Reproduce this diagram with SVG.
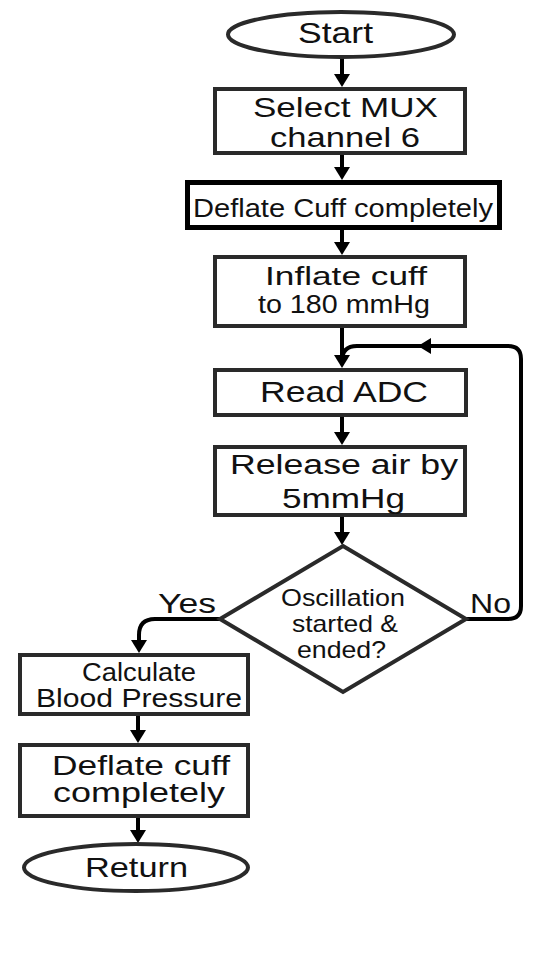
<svg xmlns="http://www.w3.org/2000/svg" width="538" height="975" viewBox="0 0 538 975">
<style>
.box{fill:#fff;stroke:#2a2a2a;stroke-width:4}
.thick{fill:#fff;stroke:#000;stroke-width:5}
.con{fill:none;stroke:#000;stroke-width:4}
text{font-family:"Liberation Sans",Arial,sans-serif;fill:#111}
</style>
<defs>
<marker id="ah" viewBox="0 0 13 16" refX="1" refY="8" markerWidth="13" markerHeight="16" markerUnits="userSpaceOnUse" orient="auto">
<path d="M0,0 L13,8 L0,16 z" fill="#000"/>
</marker>
</defs>
<rect width="538" height="975" fill="#fff"/>
<g id="connectors">
<path class="con" d="M342,57 V75" marker-end="url(#ah)"/>
<path class="con" d="M342,155 V168" marker-end="url(#ah)"/>
<path class="con" d="M342,230 V243" marker-end="url(#ah)"/>
<path class="con" d="M342,328 V356" marker-end="url(#ah)"/>
<path class="con" d="M342,417 V433" marker-end="url(#ah)"/>
<path class="con" d="M342,517 V533" marker-end="url(#ah)"/>
<path class="con" d="M466,619 H508 Q521,619 521,606 V359 Q521,346 508,346 H430" marker-end="url(#ah)"/>
<path class="con" d="M431,346 H357 Q342,346 342,361"/>
<path class="con" d="M220,619 H155 Q139,619 139,635 V641" marker-end="url(#ah)"/>
<path class="con" d="M138,716 V731" marker-end="url(#ah)"/>
<path class="con" d="M138,818 V831" marker-end="url(#ah)"/>
</g>
<g id="start">
<ellipse class="box" cx="341" cy="34.5" rx="113" ry="22.5"/>
<text x="298" y="43" font-size="29" textLength="75" lengthAdjust="spacingAndGlyphs">Start</text>
</g>
<g id="select-mux">
<rect class="box" x="215" y="89" width="250" height="64"/>
<text x="253" y="117" font-size="28" textLength="185" lengthAdjust="spacingAndGlyphs">Select MUX</text>
<text x="270" y="147" font-size="28" textLength="150" lengthAdjust="spacingAndGlyphs">channel 6</text>
</g>
<g id="deflate-1">
<rect class="thick" x="187.5" y="182.5" width="312" height="45"/>
<text x="193" y="217" font-size="26" textLength="300" lengthAdjust="spacingAndGlyphs">Deflate Cuff completely</text>
</g>
<g id="inflate">
<rect class="box" x="215" y="257" width="250" height="69"/>
<text x="265" y="285" font-size="26" textLength="162" lengthAdjust="spacingAndGlyphs">Inflate cuff</text>
<text x="258" y="313" font-size="25" textLength="172" lengthAdjust="spacingAndGlyphs">to 180 mmHg</text>
</g>
<g id="read-adc">
<rect class="box" x="215" y="370" width="251" height="45"/>
<text x="260" y="402" font-size="30" textLength="168" lengthAdjust="spacingAndGlyphs">Read ADC</text>
</g>
<g id="release">
<rect class="box" x="215" y="447" width="250" height="68"/>
<text x="230" y="474" font-size="27" textLength="228" lengthAdjust="spacingAndGlyphs">Release air by</text>
<text x="282" y="508" font-size="27" textLength="123" lengthAdjust="spacingAndGlyphs">5mmHg</text>
</g>
<g id="decision">
<polygon class="box" points="343,546 466,619 343,692 220,619"/>
<text x="281" y="606" font-size="24" textLength="124" lengthAdjust="spacingAndGlyphs">Oscillation</text>
<text x="292" y="632" font-size="24" textLength="106" lengthAdjust="spacingAndGlyphs">started &amp;</text>
<text x="297" y="658" font-size="24" textLength="89" lengthAdjust="spacingAndGlyphs">ended?</text>
<text x="158" y="613" font-size="27" textLength="58" lengthAdjust="spacingAndGlyphs">Yes</text>
<text x="470" y="613" font-size="27" textLength="41" lengthAdjust="spacingAndGlyphs">No</text>
</g>
<g id="calculate">
<rect class="box" x="20" y="655" width="228" height="59"/>
<text x="82" y="681" font-size="25" textLength="114" lengthAdjust="spacingAndGlyphs">Calculate</text>
<text x="36" y="707" font-size="25" textLength="206" lengthAdjust="spacingAndGlyphs">Blood Pressure</text>
</g>
<g id="deflate-2">
<rect class="box" x="20" y="745" width="228" height="71"/>
<text x="52" y="775" font-size="27" textLength="178" lengthAdjust="spacingAndGlyphs">Deflate cuff</text>
<text x="53" y="802" font-size="27" textLength="172" lengthAdjust="spacingAndGlyphs">completely</text>
</g>
<g id="return">
<ellipse class="box" cx="136" cy="867.5" rx="112" ry="23.5"/>
<text x="85" y="877" font-size="28" textLength="103" lengthAdjust="spacingAndGlyphs">Return</text>
</g>
</svg>
